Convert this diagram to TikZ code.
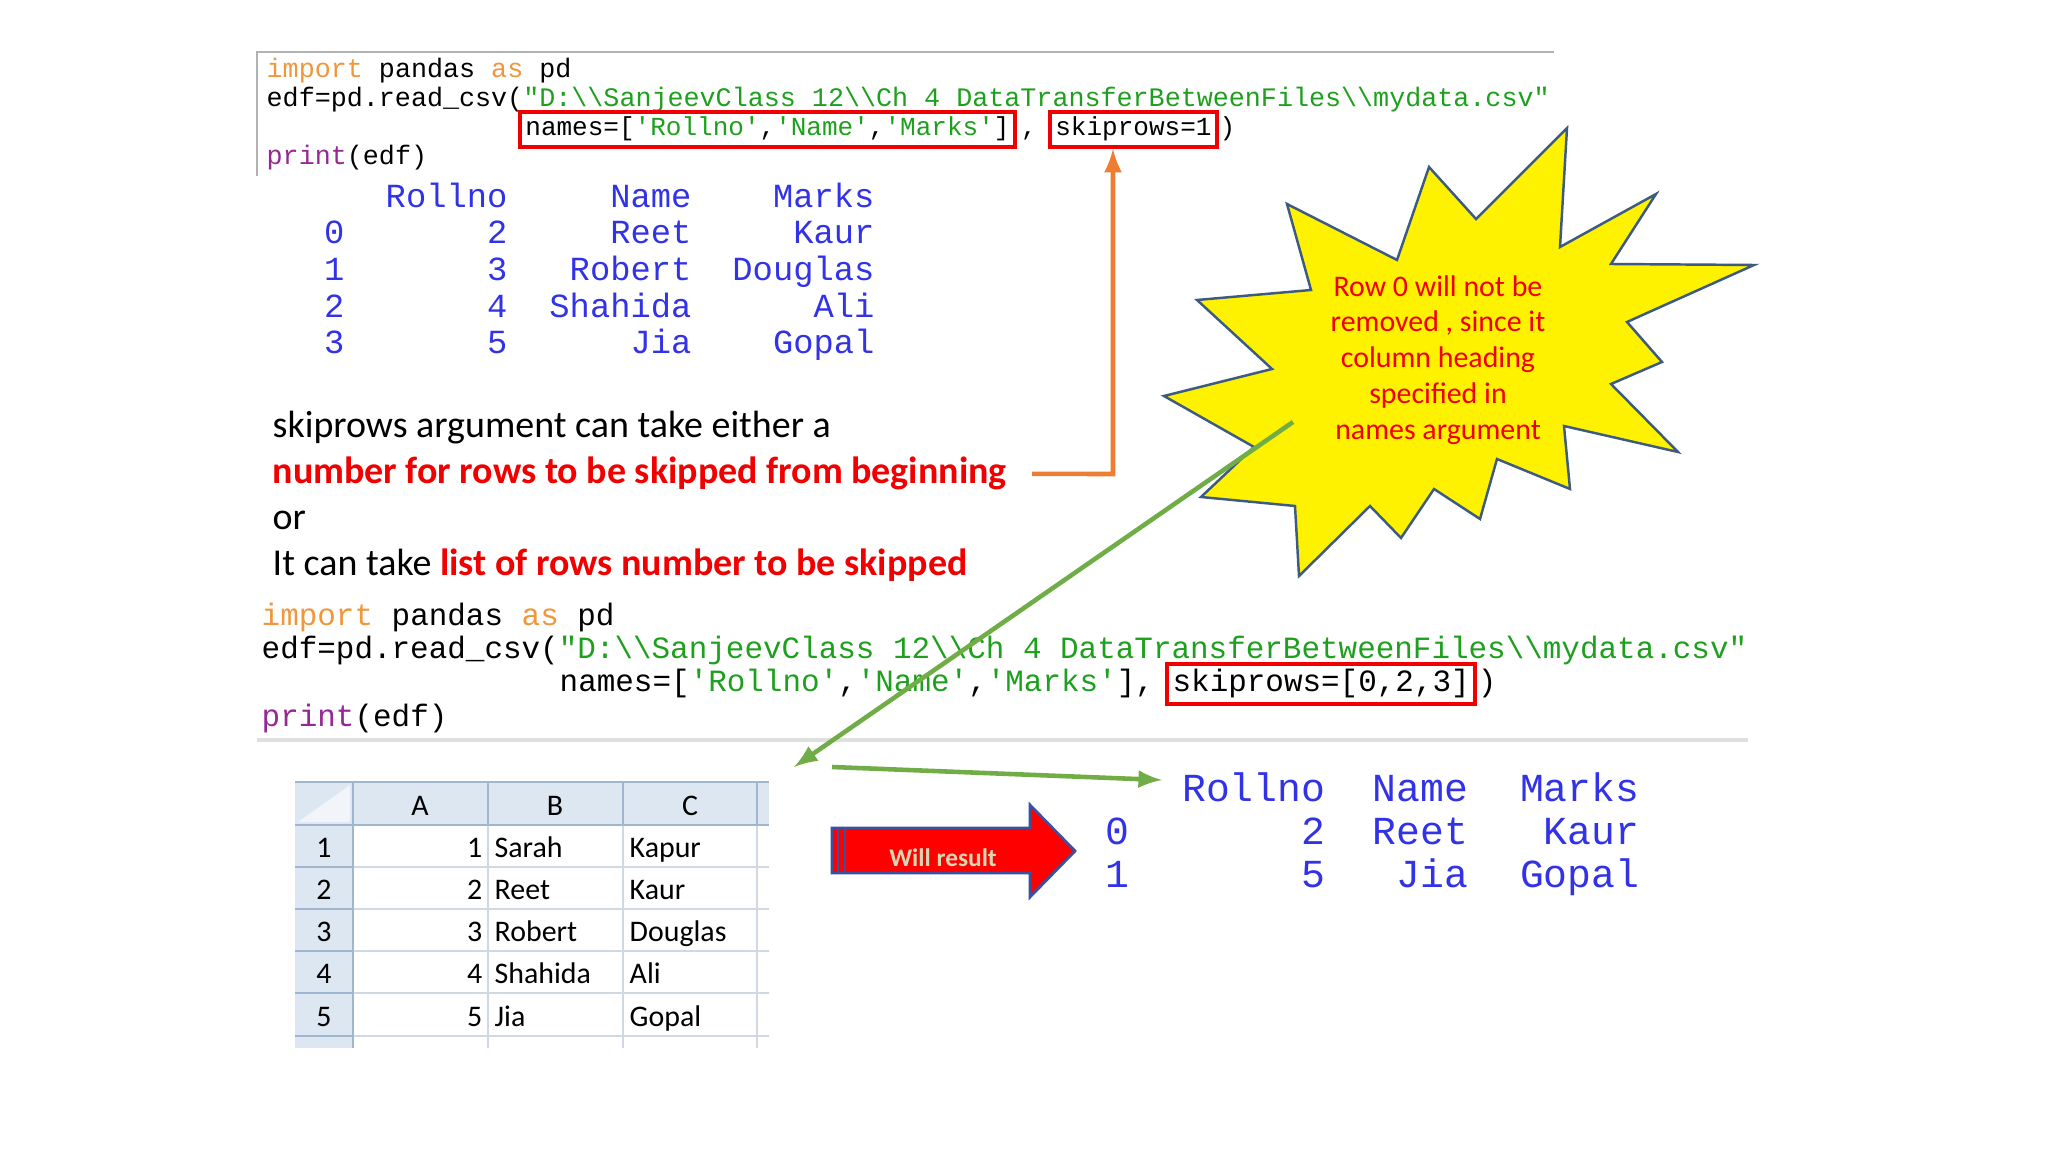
\documentclass[tikz,border=0pt]{standalone}
\usepackage{fontspec}
\setmainfont{Carlito}
\setmonofont{Liberation Mono}
\definecolor{kw}{RGB}{240,150,60}
\definecolor{str}{RGB}{30,160,30}
\definecolor{pr}{RGB}{150,40,150}
\definecolor{outb}{RGB}{50,50,230}
\definecolor{xred}{RGB}{240,0,0}
\definecolor{orarr}{RGB}{237,125,49}
\definecolor{garr}{RGB}{112,173,71}
\definecolor{hdr}{RGB}{221,231,242}
\definecolor{hdrline}{RGB}{158,182,206}
\definecolor{grid}{RGB}{208,215,229}
\definecolor{starline}{RGB}{60,90,130}
\definecolor{arrline}{RGB}{60,80,160}
\definecolor{wrtext}{RGB}{215,215,180}
\newcommand{\bsl}{\textbackslash\textbackslash}
\newcommand{\codeA}{\fontsize{7.6pt}{8pt}\ttfamily}
\newcommand{\codeLt}{\fontsize{7.4pt}{8pt}\ttfamily}
\newcommand{\codeB}{\fontsize{8.8pt}{9pt}\ttfamily}
\newcommand{\outA}{\fontsize{9.6pt}{10pt}\ttfamily\color{outb}}
\newcommand{\outB}{\fontsize{11.3pt}{12pt}\ttfamily\color{outb}}
\newcommand{\xl}{\fontsize{8.5pt}{9pt}\selectfont}
\newcommand{\sq}[1]{\textcolor{str}{'#1'}}
\tikzset{
 codeline/.style={anchor=base west,inner sep=0pt},
 redbox/.style={draw=xred,line width=1.2pt,inner sep=1.5pt,anchor=base west},
 plain/.style={anchor=base west,inner sep=0pt},
 outr/.style={anchor=base east,inner sep=0pt},
 body/.style={anchor=base west,inner sep=0pt,font=\fontsize{10.8pt}{11pt}\selectfont},
 xlr/.style={anchor=base east,inner sep=0pt,font=\xl},
 xll/.style={anchor=base west,inner sep=0pt,font=\xl},
 xlc/.style={anchor=base,inner sep=0pt,font=\xl},
}
\begin{document}
\begin{tikzpicture}[x=0.01cm,y=-0.01cm]
\useasboundingbox (0,0) rectangle (2048,1152);
\draw[gray!60,line width=0.8pt] (257,176) -- (257,52) -- (1554,52);
\node[codeline] (c1a) at (266,78) {\codeA\textcolor{kw}{import} pandas \textcolor{kw}{as} pd};
\node[codeline] (c1b) at (266,107) {\codeA edf=pd.read\_csv(\textcolor{str}{"D:\bsl SanjeevClass 12\bsl Ch 4 DataTransferBetweenFiles\bsl mydata.csv"}};
\node[redbox] (n1) at (518,136) {\codeLt names=[\sq{Rollno},\sq{Name},\sq{Marks}]};
\node[plain] (n1c) at ([xshift=1pt]n1.base east) {\codeLt ,};
\node[redbox] (n2) at ([xshift=3pt]n1c.base east) {\codeLt skiprows=1};
\node[plain] (n2c) at (n2.base east) {\codeLt )};
\node[codeline] (c1d) at (266,165) {\codeA\textcolor{pr}{print}(edf)};
\foreach \y/\i/\r/\n/\m [count=\k] in {208/ /Rollno/Name/Marks,244/0/2/Reet/Kaur,281/1/3/Robert/Douglas,318/2/4/Shahida/Ali,354/3/5/Jia/Gopal}{
 \node[outr] (oi\k) at (345,\y) {\outA \i};
 \node[outr] (or\k) at (508,\y) {\outA \r};
 \node[outr] (on\k) at (692,\y) {\outA \n};
 \node[outr] (om\k) at (875,\y) {\outA \m};
}
\node[body] (t1) at (272,438) {skiprows argument can take either a};
\node[body] (t2) at (272,484) {\color{xred}\bfseries number for rows to be skipped from beginning};
\node[body] (t3) at (272,530) {or};
\node[body] (t4) at (272,575) {It can take \textcolor{xred}{\bfseries list of rows number to be skipped}};
\coordinate (oc) at (1113,474);
\draw[orarr,line width=1.3pt,-latex] ([xshift=7pt]t2.east) -- (oc) -- (oc |- n2.south);
\draw[gray!25,line width=1pt] (257,740) -- (1748,740);
\node[codeline] (c2a) at (261,625) {\codeB\textcolor{kw}{import} pandas \textcolor{kw}{as} pd};
\node[codeline] (c2b) at (261,659) {\codeB edf=pd.read\_csv(\textcolor{str}{"D:\bsl SanjeevClass 12\bsl Ch 4 DataTransferBetweenFiles\bsl mydata.csv"}};
\node[plain] (m1) at (559,692) {\codeB names=[\sq{Rollno},\sq{Name},\sq{Marks}],};
\node[redbox] (m2) at ([xshift=3pt]m1.base east) {\codeB skiprows=[0,2,3]};
\node[plain] (m2c) at (m2.base east) {\codeB )};
\node[codeline] (c2d) at (261,726) {\codeB\textcolor{pr}{print}(edf)};
\path[fill=yellow,draw=starline,line width=0.7pt]
 (1567,128)--(1560,247)--(1656,194)--(1611,264)--(1754,265)--(1627,322)--(1662,362)--(1611,384)--(1678,452)--(1564,426)--(1570,489)--(1497,459)--(1480,519)--(1434,489)--(1401,538)--(1370,506)--(1299,576)--(1295,506)--(1201,497)--(1254,447)--(1164,396)--(1272,369)--(1197,300)--(1311,290)--(1287,204)--(1397,260)--(1429,167)--(1476,219)--cycle;
\node[align=center,text=xred,font=\fontsize{8.5pt}{10.2pt}\selectfont] (star) at (1438,360) {Row 0 will not be\\removed , since it\\column heading\\specified in\\names argument};
\coordinate (sp) at (1293,422);
\coordinate (g1) at (794,767);
\coordinate (g2s) at (832,767);
\coordinate (g2e) at (1162,780);
\draw[garr,line width=1.3pt,-latex] (sp) -- (g1);
\draw[garr,line width=1.3pt,-latex] (g2s) -- (g2e);
\fill[hdr] (295,782) rectangle (769,825);
\fill[hdr] (295,825) rectangle (353,1048);
\fill[white!60!hdr] (298,822) -- (350,785) -- (350,822) -- cycle;
\foreach \y in {867,909,951,993,1036}{\draw[grid] (353,\y) -- (769,\y); \draw[hdrline] (295,\y) -- (353,\y);}
\foreach \x in {488,623,757}{\draw[grid] (\x,825) -- (\x,1048); \draw[hdrline] (\x,782) -- (\x,825);}
\draw[hdrline] (295,782) -- (769,782);
\draw[hdrline] (295,825) -- (769,825);
\draw[hdrline] (353,782) -- (353,1048);
\node[xlc] (ha) at (420,815) {A};
\node[xlc] (hb) at (555,815) {B};
\node[xlc] (hc) at (690,815) {C};
\foreach \y/\n/\b/\c [count=\k] in {857/1/Sarah/Kapur,899/2/Reet/Kaur,941/3/Robert/Douglas,983/4/Shahida/Ali,1026/5/Jia/Gopal}{
 \node[xlc] (xr\k) at (324,\y) {\n};
 \node[xlr] (xa\k) at (483,\y) {\n};
 \node[xll] (xb\k) at (494,\y) {\b};
 \node[xll] (xc\k) at (629,\y) {\c};
}
\path[fill=red,draw=arrline,line width=0.8pt] (832,828) -- (1030,828) -- (1030,805) -- (1075,851) -- (1030,897) -- (1030,873) -- (832,873) -- cycle;
\draw[arrline,line width=0.8pt] (838,828) -- (838,873) (845,828) -- (845,873);
\node[text=wrtext,font=\fontsize{7.2pt}{8pt}\selectfont\bfseries] (wr) at (943,858) {Will result};
\foreach \y/\i/\r/\n/\m [count=\k] in {801/ /Rollno/Name/Marks,844/0/2/Reet/Kaur,887/1/5/Jia/Gopal}{
 \node[outr] (pi\k) at (1130,\y) {\outB \i};
 \node[outr] (pr\k) at (1326,\y) {\outB \r};
 \node[outr] (pn\k) at (1469,\y) {\outB \n};
 \node[outr] (pm\k) at (1640,\y) {\outB \m};
}
\end{tikzpicture}
\end{document}
